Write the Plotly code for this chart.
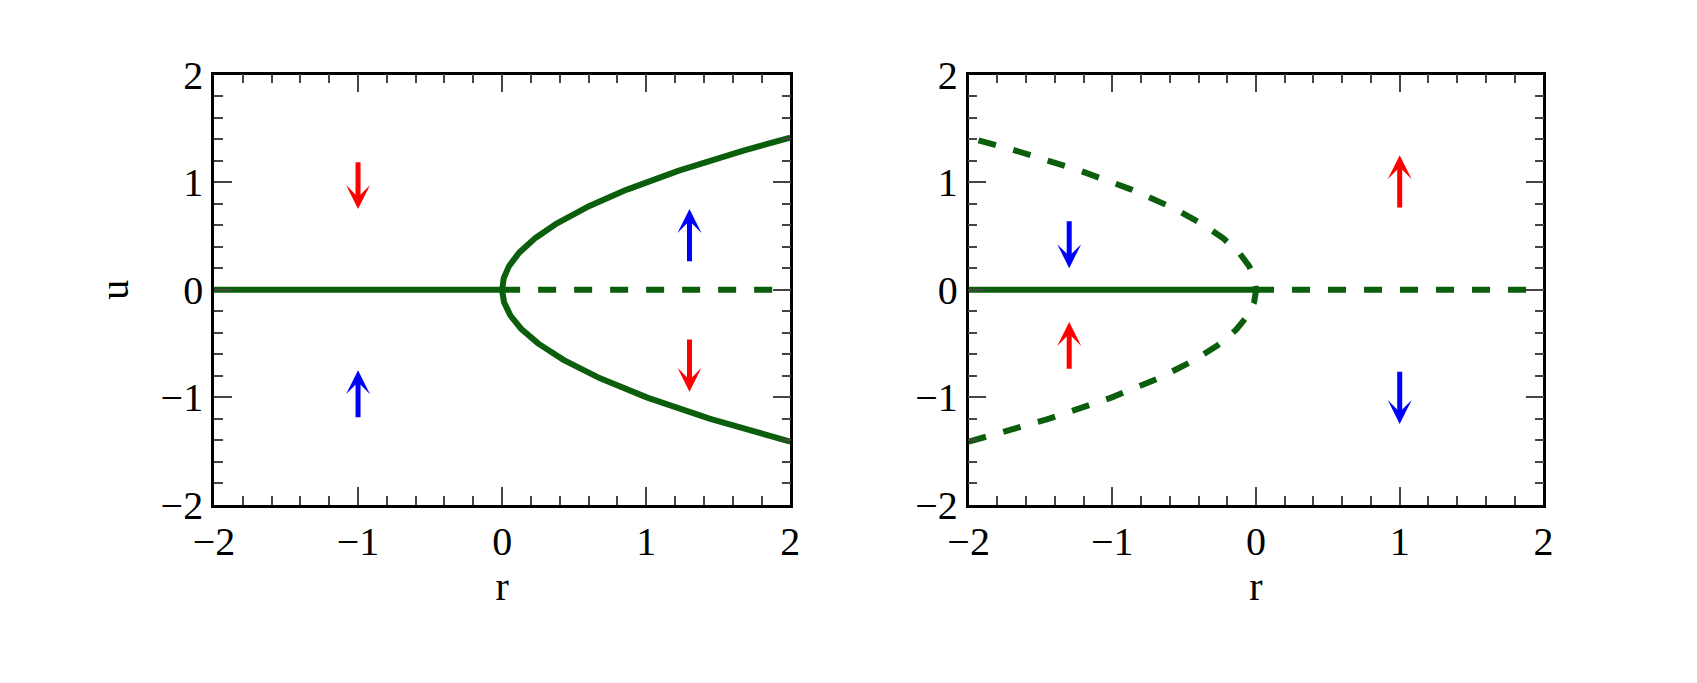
import numpy as np
import plotly.graph_objects as go

r_neg = [-2, 0]
r_pos = [0, 2]
u_branch = list(np.linspace(-np.sqrt(2), np.sqrt(2), 301))
r_branch = [v * v for v in u_branch]
tick_vals = [-2, -1, 0, 1, 2]
tick_text = ["\u22122", "\u22121", "0", "1", "2"]
# arrows: (panel, r, u_tail, u_head, color)
arrows = [
    (1, -1, 1.2, 0.75, "red"), (1, -1, -1.2, -0.75, "blue"),
    (1, 1.3, 0.25, 0.75, "blue"), (1, 1.3, -0.45, -0.95, "red"),
    (2, -1.3, 0.65, 0.2, "blue"), (2, -1.3, -0.75, -0.3, "red"),
    (2, 1, 0.75, 1.25, "red"), (2, 1, -0.75, -1.25, "blue"),
]
green = "#0b5e0b"
fig = go.Figure()
def line(x, y, dash, xa, ya):
    fig.add_trace(go.Scatter(x=x, y=y, mode="lines", line=dict(color=green, width=6, dash=dash),
                             xaxis=xa, yaxis=ya, showlegend=False))
line(r_neg, [0, 0], "solid", "x", "y")
line(r_pos, [0, 0], "dash", "x", "y")
line(r_branch, u_branch, "solid", "x", "y")
line(r_neg, [0, 0], "solid", "x2", "y2")
line(r_pos, [0, 0], "dash", "x2", "y2")
line([-v for v in r_branch], u_branch, "dash", "x2", "y2")
for p, x, t, h, c in arrows:
    xr = "x" if p == 1 else "x2"; yr = "y" if p == 1 else "y2"
    fig.add_annotation(x=x, y=h, ax=x, ay=t, xref=xr, yref=yr, axref=xr, ayref=yr,
                       showarrow=True, arrowhead=3, arrowsize=0.8, arrowwidth=5, arrowcolor=c, text="")
font = dict(family="Liberation Serif", size=40, color="black")
ax = dict(range=[-2, 2], tickvals=tick_vals, ticktext=tick_text, ticks="inside", ticklen=18,
          tickwidth=2, showline=True, linewidth=2.5, linecolor="black", mirror="ticks",
          showgrid=False, zeroline=False, tickfont=font,
          minor=dict(dtick=0.2, ticks="inside", ticklen=9, tickwidth=2, showgrid=False))
fig.update_layout(
    width=1697, height=683, plot_bgcolor="white", paper_bgcolor="white", margin=dict(l=0, r=0, t=0, b=0),
    xaxis=dict(ax, domain=[0.111, 0.457], anchor="y", title=dict(text="r", font=font, standoff=2)),
    yaxis=dict(ax, domain=[0.256, 0.93], anchor="x", title=dict(text="u", font=font, standoff=20)),
    xaxis2=dict(ax, domain=[0.564, 0.909], anchor="y2", title=dict(text="r", font=font, standoff=2)),
    yaxis2=dict(ax, domain=[0.256, 0.93], anchor="x2"),
)
fig.write_html("out.html")
